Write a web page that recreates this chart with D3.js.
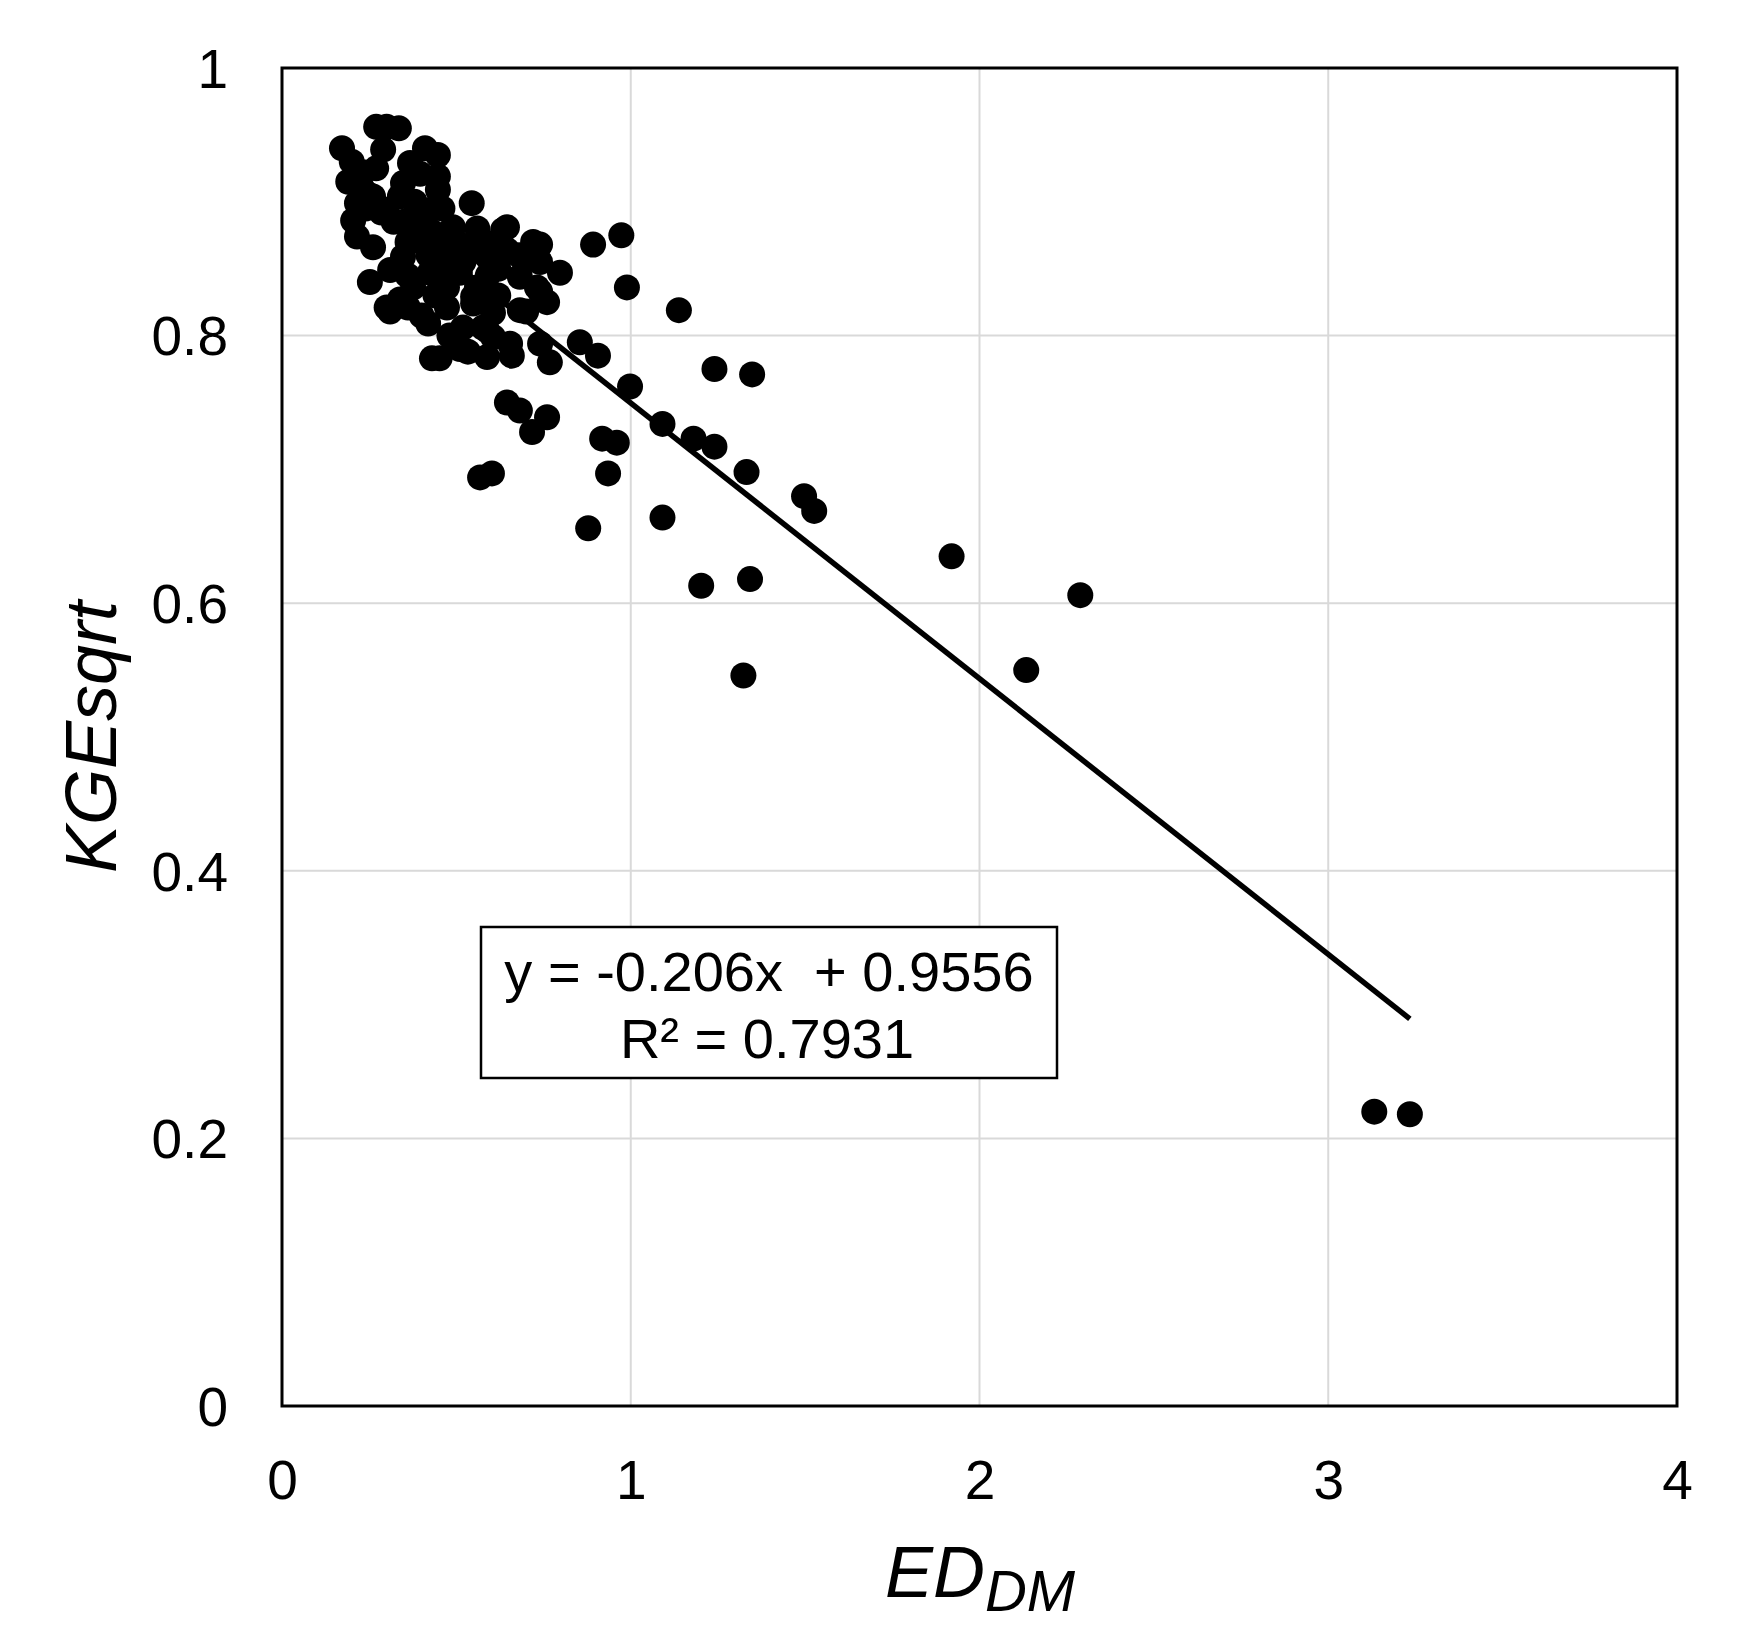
<!DOCTYPE html>
<html>
<head>
<meta charset="utf-8">
<script src="https://cdn.jsdelivr.net/npm/d3@7/dist/d3.min.js"></script>
<style>
  html, body { margin: 0; padding: 0; background: #fff; }
  svg { display: block; }
  text { font-family: "Liberation Sans", Arial, sans-serif; fill: #000; }
</style>
</head>
<body>
<svg id="chart" width="1737" height="1646"></svg>
<script>
// ---- data ----
const edValues = [
  0.172,0.200,0.232,0.270,0.300,0.335,0.290,0.447,0.367,0.396,
  0.447,0.447,0.215,0.204,0.215,0.261,0.300,0.338,0.347,0.544,
  0.435,0.396,0.261,0.252,0.310,0.347,0.387,0.433,0.490,0.530,
  0.588,0.634,0.645,0.702,0.740,0.797,0.682,0.731,0.300,0.338,
  0.424,0.473,0.510,0.559,0.473,0.588,0.605,0.376,0.310,0.361,
  0.419,0.519,0.576,0.548,0.605,0.533,0.588,0.659,0.430,0.452,
  0.682,0.760,0.740,0.768,0.854,0.906,0.645,0.682,0.760,0.717,
  0.918,0.960,0.935,0.568,0.602,0.892,0.973,0.989,0.998,1.138,
  1.240,1.348,1.091,1.180,1.240,1.332,1.497,1.526,1.091,0.878,
  1.202,1.342,1.323,1.920,2.134,2.289,3.132,3.234,0.500,0.645,
  0.740,0.548,0.588,0.473,0.588,0.654,0.700,0.740,0.620,0.560,
  0.460,0.420,0.380,0.350,0.240,0.360,0.450,0.400,0.440,0.480,
  0.510,0.620,0.680,0.720,0.590,0.360,0.270,0.410,0.230,0.250,
  0.285,0.320,0.420,0.470,0.190,0.520
];
const kgeValues = [
  0.940,0.930,0.922,0.956,0.956,0.955,0.939,0.935,0.929,0.921,
  0.919,0.909,0.899,0.886,0.874,0.904,0.894,0.904,0.914,0.899,
  0.895,0.886,0.866,0.840,0.849,0.859,0.871,0.877,0.881,0.866,
  0.869,0.879,0.864,0.859,0.868,0.847,0.844,0.836,0.821,0.827,
  0.847,0.836,0.847,0.836,0.821,0.827,0.817,0.836,0.818,0.821,
  0.809,0.806,0.806,0.824,0.799,0.788,0.784,0.785,0.783,0.783,
  0.819,0.825,0.794,0.780,0.795,0.785,0.750,0.744,0.739,0.728,
  0.723,0.720,0.697,0.694,0.697,0.868,0.875,0.836,0.762,0.819,
  0.775,0.771,0.734,0.723,0.717,0.698,0.680,0.669,0.664,0.656,
  0.613,0.618,0.546,0.635,0.550,0.606,0.220,0.218,0.870,0.881,
  0.833,0.829,0.859,0.849,0.804,0.794,0.818,0.855,0.850,0.880,
  0.895,0.860,0.900,0.885,0.895,0.845,0.865,0.815,0.830,0.800,
  0.790,0.830,0.860,0.870,0.845,0.870,0.925,0.940,0.910,0.905,
  0.892,0.885,0.875,0.860,0.915,0.855
];
const xTicks = [0, 1, 2, 3, 4];
const yTicks = [0, 0.2, 0.4, 0.6, 0.8, 1];
const xTickLabels = ["0", "1", "2", "3", "4"];
const yTickLabels = ["0", "0.2", "0.4", "0.6", "0.8", "1"];
const slope = -0.206;
const intercept = 0.9556;
const equationLines = ["y = -0.206x  + 0.9556", "R\u00B2 = 0.7931"];

// ---- layout ----
const svg = d3.select("#chart");
const pLeft = 282, pRight = 1677, pTop = 68, pBottom = 1406;
const x = d3.scaleLinear().domain([0, 4]).range([pLeft, pRight]);
const y = d3.scaleLinear().domain([0, 1]).range([pBottom, pTop]);

// gridlines
svg.append("g").selectAll("line").data(xTicks.slice(1, -1)).enter().append("line")
  .attr("x1", d => x(d)).attr("x2", d => x(d))
  .attr("y1", pTop).attr("y2", pBottom)
  .attr("stroke", "#d9d9d9").attr("stroke-width", 2);
svg.append("g").selectAll("line").data(yTicks.slice(1, -1)).enter().append("line")
  .attr("x1", pLeft).attr("x2", pRight)
  .attr("y1", d => y(d)).attr("y2", d => y(d))
  .attr("stroke", "#d9d9d9").attr("stroke-width", 2);

// axes (labels only, no tick marks)
const xAxis = d3.axisBottom(x).tickValues(xTicks).tickSize(0)
  .tickFormat((d, i) => xTickLabels[i]);
const gx = svg.append("g").attr("transform", `translate(0,${pBottom})`).call(xAxis);
gx.select(".domain").remove();
gx.selectAll("text").attr("font-size", 55).attr("font-family", "Liberation Sans, Arial, sans-serif")
  .attr("dy", null).attr("y", 93).attr("fill", "#000");

const yAxis = d3.axisLeft(y).tickValues(yTicks).tickSize(0)
  .tickFormat((d, i) => yTickLabels[i]);
const gy = svg.append("g").attr("transform", `translate(${pLeft},0)`).call(yAxis);
gy.select(".domain").remove();
gy.selectAll("text").attr("font-size", 55).attr("font-family", "Liberation Sans, Arial, sans-serif")
  .attr("x", -54).attr("dy", "0.35em").attr("fill", "#000");

// points
const pts = edValues.map((v, i) => ({ x: v, y: kgeValues[i] }));
svg.append("g").selectAll("circle").data(pts).enter().append("circle")
  .attr("cx", d => x(d.x)).attr("cy", d => y(d.y)).attr("r", 13)
  .attr("fill", "#000");

// trend line across data range
const xMin = d3.min(edValues), xMax = d3.max(edValues);
svg.append("line")
  .attr("x1", x(xMin)).attr("y1", y(slope * xMin + intercept))
  .attr("x2", x(xMax)).attr("y2", y(slope * xMax + intercept))
  .attr("stroke", "#000").attr("stroke-width", 5.5);

// plot border
svg.append("rect").attr("x", pLeft).attr("y", pTop)
  .attr("width", pRight - pLeft).attr("height", pBottom - pTop)
  .attr("fill", "none").attr("stroke", "#000").attr("stroke-width", 3);

// equation box
svg.append("rect").attr("x", 481).attr("y", 927).attr("width", 576).attr("height", 151)
  .attr("fill", "#fff").attr("stroke", "#000").attr("stroke-width", 2.5);
svg.append("text").attr("x", 769).attr("y", 991).attr("text-anchor", "middle")
  .attr("font-size", 56).style("white-space", "pre")
  .text(equationLines[0]);
svg.append("text").attr("x", 767).attr("y", 1058).attr("text-anchor", "middle")
  .attr("font-size", 56).text(equationLines[1]);

// axis titles
const xt = svg.append("text").attr("x", 980).attr("y", 1597).attr("text-anchor", "middle")
  .attr("font-style", "italic").attr("font-size", 72);
xt.append("tspan").text("ED");
xt.append("tspan").attr("font-size", 58).attr("dy", 14).text("DM");

svg.append("text").attr("transform", "translate(116,737) rotate(-90)")
  .attr("text-anchor", "middle").attr("font-style", "italic").attr("font-size", 72)
  .text("KGEsqrt");
</script>
</body>
</html>
